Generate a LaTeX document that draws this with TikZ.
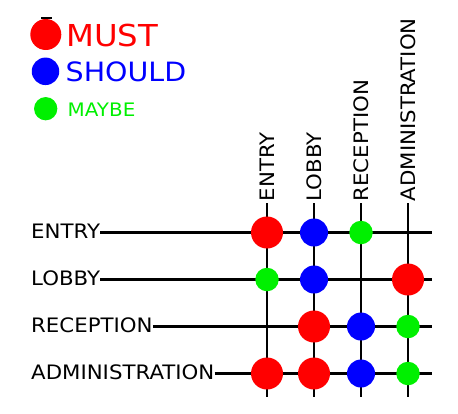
\documentclass[tikz,border=0pt]{standalone}
\usepackage{fontspec}
\setmainfont[FakeStretch=1.07]{DejaVu Sans}
\definecolor{cmust}{RGB}{255,0,0}
\definecolor{cshould}{RGB}{0,0,255}
\definecolor{cmaybe}{RGB}{0,240,0}
\tikzset{
  grid line/.style={line width=2.6pt, black},
  lbl/.style={inner sep=0pt, font=\fontsize{19.9}{21}\selectfont, text=black},
  clbl/.style={lbl, rotate=90, anchor=base west},
  rlbl/.style={lbl, anchor=base west},
  must/.style={circle, fill=cmust, inner sep=0pt, minimum size=32pt},
  should/.style={circle, fill=cshould, inner sep=0pt, minimum size=28pt},
  maybe/.style={circle, fill=cmaybe, inner sep=0pt, minimum size=23.5pt},
}
\begin{document}
\begin{tikzpicture}[x=1pt, y=-1pt]
\useasboundingbox (0,0) rectangle (458,413);
% legend
\fill[black] (41,17.3) rectangle (51.5,19.3);
\node[must, minimum size=31pt] (lgm) at (45.8,34.5) {};
\node[should, minimum size=27.5pt] (lgs) at (45.5,71.3) {};
\node[maybe, minimum size=23.3pt] (lgy) at (45.7,108.7) {};
\node[inner sep=0pt, anchor=base west, text=cmust, font=\fontsize{30.2}{32}\selectfont] (tm) at (66,46) {MUST};
\node[inner sep=0pt, anchor=base west, text=cshould, font=\fontsize{26.6}{28}\selectfont] (ts) at (65.5,81.7) {SHOULD};
\node[inner sep=0pt, anchor=base west, text=cmaybe, font=\fontsize{18.6}{20}\selectfont] (ty) at (67.5,116) {MAYBE};
% column labels and lines
\foreach \i/\x/\t in {1/267/ENTRY, 2/314/LOBBY, 3/361/RECEPTION, 4/408/ADMINISTRATION}{
  \node[clbl] (c\i) at (\x+7,201.5) {\t};
  \coordinate (ct\i) at (\x,203);
  \coordinate (cb\i) at (\x,397);
  \draw[grid line] (ct\i) -- (cb\i);
}
% row labels and lines
\foreach \i/\y/\t in {1/232.5/ENTRY, 2/279.5/LOBBY, 3/326.5/RECEPTION, 4/373.5/ADMINISTRATION}{
  \node[rlbl] (r\i) at (31,\y+5.5) {\t};
  \coordinate (re\i) at (432,\y);
  \draw[grid line] (r\i.east |- re\i) -- (re\i);
}
% matrix circles
\node[must]   (m11) at (ct1 |- re1) {};
\node[should] (m12) at (ct2 |- re1) {};
\node[maybe]  (m13) at (ct3 |- re1) {};
\node[maybe]  (m21) at (ct1 |- re2) {};
\node[should] (m22) at (ct2 |- re2) {};
\node[must]   (m24) at (ct4 |- re2) {};
\node[must]   (m32) at (ct2 |- re3) {};
\node[should] (m33) at (ct3 |- re3) {};
\node[maybe]  (m34) at (ct4 |- re3) {};
\node[must]   (m41) at (ct1 |- re4) {};
\node[must]   (m42) at (ct2 |- re4) {};
\node[should] (m43) at (ct3 |- re4) {};
\node[maybe]  (m44) at (ct4 |- re4) {};
\end{tikzpicture}
\end{document}
